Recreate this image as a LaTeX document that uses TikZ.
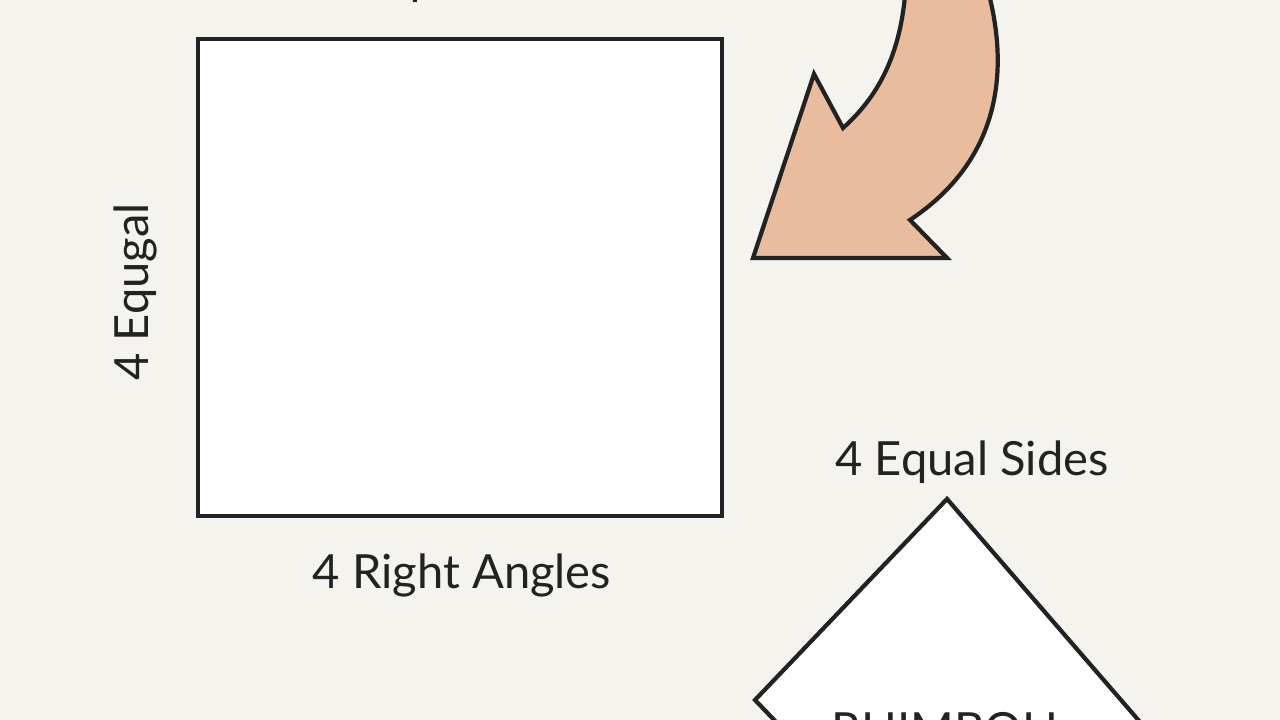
\documentclass[tikz,border=0pt]{standalone}
\usepackage{fontspec}
\setmainfont{Lato}
\usepackage{tikz}
\usetikzlibrary{calc, positioning, backgrounds}
\definecolor{paper}{HTML}{F5F3EE}
\definecolor{peach}{HTML}{E9BC9D}
\definecolor{ink}{HTML}{222222}
\newcommand{\lbl}{\fontsize{13.4}{16}\selectfont}

\begin{document}
\begin{tikzpicture}[outline/.style={line width=1.2pt, draw=ink, line join=miter},
  tag/.style={text=ink, inner sep=0pt, font=\lbl}]
\useasboundingbox (0,0) rectangle (12.8,7.2);
\clip (0,0) rectangle (12.8,7.2);
\fill[paper] (0,0) rectangle (12.8,7.2);

% square
\coordinate (SqA) at (1.98,6.81);
\coordinate (SqB) at (7.22,2.04);
\draw[outline, fill=white] (SqA) rectangle (SqB);

% curved arrow
\coordinate (T) at (7.53,4.62);
\coordinate (U) at (8.14,6.46);
\coordinate (N) at (8.43,5.92);
\coordinate (P) at (9.06,7.40);
\coordinate (Q) at (9.85,7.40);
\coordinate (R) at (9.10,5.00);
\coordinate (S) at (9.47,4.62);
\draw[outline, fill=peach] (T) -- (U) -- (N) .. controls (8.80,6.25) and (9.03,6.70) .. (P)
  -- (Q) .. controls (10.12,6.50) and (10.00,5.60) .. (R) -- (S) -- cycle;

% rhombus
\coordinate (Dt) at (9.47,2.21);
\coordinate (Dl) at (7.55,0.20);
\coordinate (Db) at (9.47,-1.80);
\coordinate (Dr) at (11.40,-0.02);
\draw[outline, fill=white] (Dt) -- (Dr) -- (Db) -- (Dl) -- cycle;

% labels
\node[tag, anchor=base] (title) at (4.40,7.25) {Square};
\node[tag, rotate=90] (side) at (1.35,4.28) {4 Equgal};
\node[tag] (angles) at (4.62,1.45) {4 Right Angles};
\node[tag] (sides) at (9.72,2.58) {4 Equal Sides};
\node[tag, anchor=base] (name) at (9.45,-0.27) {RHIMBOH};
\end{tikzpicture}
\end{document}
